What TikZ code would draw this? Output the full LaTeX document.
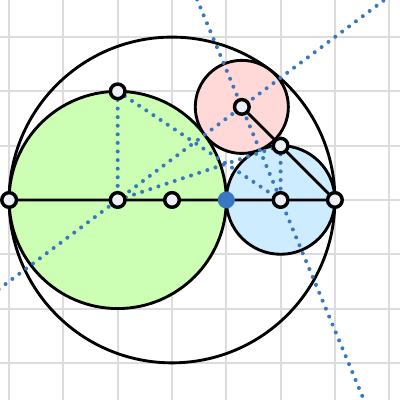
\documentclass[tikz,border=0pt]{standalone}
\usetikzlibrary{calc}
\definecolor{gridgray}{RGB}{220,220,220}
\definecolor{dotblue}{RGB}{56,120,192}
\definecolor{greenfill}{RGB}{204,255,179}
\definecolor{bluefill}{RGB}{206,236,255}
\definecolor{redfill}{RGB}{255,216,216}
\definecolor{ptfill}{RGB}{236,240,245}
\tikzset{
	dotline/.style={dotblue, line width=2.1pt, line cap=round, dash pattern=on 0pt off 4.5pt},
	circ/.style={draw=black, line width=1.5pt},
	pt/.style={fill=ptfill, draw=black, line width=1.8pt},
}
\begin{document}
\begin{tikzpicture}[line join=round, line cap=round]
		\useasboundingbox (-3.168,-3.683) rectangle (4.199,3.683);
		\clip (-3.168,-3.683) rectangle (4.199,3.683);
		\draw[gridgray, line width=1pt] (-5,-5) grid (5,5);
		\path
		(-3,0) coordinate (A)
		(3,0) coordinate (B)
		(1,0) coordinate (C)
		(0,0) coordinate (O)
		(-1,0) coordinate (O1)
		(2,0) coordinate (O2)
		(-1,2) coordinate (T1)
		(2,1) coordinate (T2)
		(9/7,12/7) coordinate (R);
		% arbelos
		\draw[circ] (O) circle (3);
		\draw[circ, fill=greenfill] (O1) circle (2);
		\draw[circ, fill=bluefill] (O2) circle (1);
		\draw[circ, fill=redfill] (R) circle (6/7);
		\draw[line width=1.5pt] (A) -- (B) (R) -- (B);
		% construction lines
		\draw[dotline] ($(O1)!-5!(R)$) -- ($(O1)!6!(R)$);
		\draw[dotline] ($(O2)!-5!(R)$) -- ($(O2)!6!(R)$);
		\draw[dotline] (T1) -- (O1) (T1) -- (O2) (O1) -- (T2) (T2) -- (O2);
		\fill[dotblue] (C) circle (0.157);
		\foreach \p in {A, O1, O, O2, B, T1, T2, R}
		\draw[pt] (\p) circle (0.135);
	\end{tikzpicture}
\end{document}
